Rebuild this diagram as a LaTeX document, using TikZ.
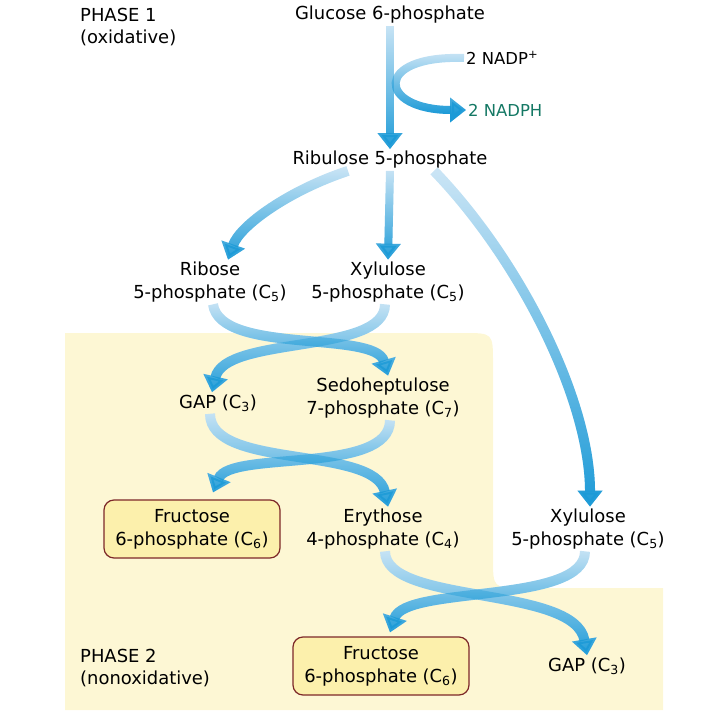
\documentclass[tikz,border=0pt]{standalone}
\usepackage{fontspec}
\setmainfont{DejaVu Sans}
\usetikzlibrary{arrows.meta,fadings}
\definecolor{flowbl}{RGB}{27,154,215}
\definecolor{palebl}{RGB}{205,230,246}
\definecolor{phasebg}{RGB}{253,247,212}
\definecolor{boxfill}{RGB}{252,240,172}
\definecolor{boxline}{RGB}{125,40,40}
\definecolor{nadphgreen}{RGB}{20,120,100}
\tikzfading[name=flowfade,top color=transparent!100,middle color=transparent!75,bottom color=transparent!0]
\begin{document}
\begin{tikzpicture}[x=1bp,y=-1bp,
  every node/.style={font=\fontsize{18}{23}\selectfont,align=center,inner sep=2bp},
  cofactor/.style={anchor=west,font=\fontsize{16.5}{18}\selectfont},
  sugar/.style={draw=boxline,fill=boxfill,rounded corners=10bp,line width=1.2bp,minimum width=176bp,minimum height=58bp},
  flow/.style={line width=10bp,-{Triangle[length=16bp,width=24bp]},flow#1},
  flowpale/.style={draw=palebl},
  flowdark/.style={draw=flowbl,path fading=flowfade}]
\useasboundingbox (0,0) rectangle (720,720);
\fill[phasebg] (65,333) -- (463,333) .. controls (493,333) .. (493,363) -- (493,558) .. controls (493,588) .. (523,588) -- (663,588) -- (663,710) -- (65,710) -- cycle;
\node[anchor=west,align=left](ph1) at (78,27){PHASE 1\\(oxidative)};
\node[anchor=west,align=left](ph2) at (78,668){PHASE 2\\(nonoxidative)};
\node(glu) at (390,15){Glucose 6-phosphate};
\node[cofactor](nadp) at (464,58){2 NADP\textsuperscript{+}};
\node[cofactor,text=nadphgreen](nadph) at (466,110){2 NADPH};
\node(rul) at (390,160){Ribulose 5-phosphate};
\node(rib) at (210,282){Ribose\\5-phosphate (C\textsubscript{5})};
\node(xyl) at (388,282){Xylulose\\5-phosphate (C\textsubscript{5})};
\node(gap) at (218,403){GAP (C\textsubscript{3})};
\node(sed) at (383,398){Sedoheptulose\\7-phosphate (C\textsubscript{7})};
\node[sugar](frua) at (192,529){Fructose\\6-phosphate (C\textsubscript{6})};
\node(ery) at (383,529){Erythose\\4-phosphate (C\textsubscript{4})};
\node(xylb) at (588,529){Xylulose\\5-phosphate (C\textsubscript{5})};
\node[sugar](frub) at (381,666){Fructose\\6-phosphate (C\textsubscript{6})};
\node(gapb) at (587,666){GAP (C\textsubscript{3})};
% pale band first, blue on top
\foreach \s in {pale,dark}{
  \draw[flow/.expanded=\s,line width=8bp] ([xshift=-9bp]glu.south) ([xshift=9bp]glu.south) (glu.south) -- (rul.north);
  \draw[flow/.expanded=\s,line width=8bp] (nadp.west) .. controls (372,55) and (378,110) .. (nadph.west);
  \draw[flow/.expanded=\s] ([xshift=-42bp]rul.south) .. controls (290,190) and (240,225) .. ([xshift=18bp]rib.north);
  \draw[flow/.expanded=\s,line width=8bp] ([xshift=-10bp]rul.south) ([xshift=10bp]rul.south) (rul.south) -- (xyl.north);
  \draw[flow/.expanded=\s] ([xshift=44bp]rul.south) .. controls (520,260) and (590,400) .. ([xshift=2bp]xylb.north);
  \draw[flow/.expanded=\s] ([xshift=3bp]rib.south) .. controls (220,355) and (375,330) .. ([xshift=5bp]sed.north);
  \draw[flow/.expanded=\s] ([xshift=-3bp]xyl.south) .. controls (385,355) and (225,335) .. ([xshift=-6bp]gap.north);
  \draw[flow/.expanded=\s] ([xshift=-8bp]gap.south) .. controls (210,470) and (375,445) .. ([xshift=5bp]ery.north);
  \draw[flow/.expanded=\s] ([xshift=7bp]sed.south) .. controls (390,475) and (230,450) .. ([xshift=21bp,yshift=7bp]frua.north);
  \draw[flow/.expanded=\s] ([xshift=2bp]ery.south) .. controls (385,605) and (575,585) .. (gapb.north);
  \draw[flow/.expanded=\s] ([xshift=-3bp]xylb.south) .. controls (585,605) and (405,585) .. ([xshift=9bp,yshift=4bp]frub.north);
}
\end{tikzpicture}
\end{document}
